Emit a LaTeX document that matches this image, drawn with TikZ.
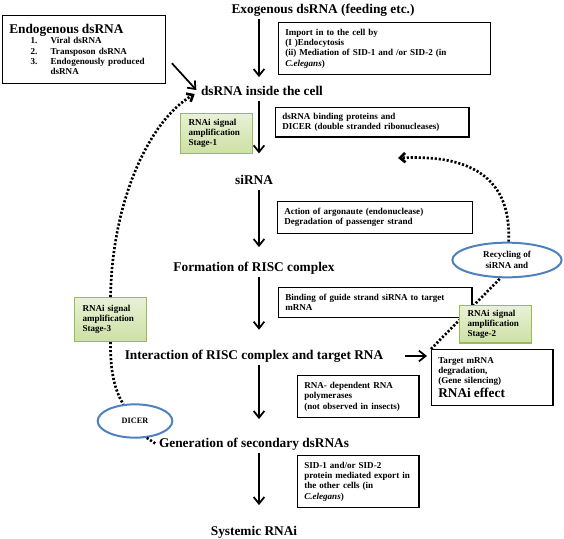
\documentclass[tikz,border=0pt]{standalone}
\usepackage{fontspec}
\setmainfont{Liberation Serif}
\usetikzlibrary{backgrounds,arrows.meta,shapes.geometric,positioning,calc}
\definecolor{ampfill}{RGB}{205,224,164}
\definecolor{ampedge}{RGB}{155,187,89}
\definecolor{ringblue}{RGB}{79,129,189}

\tikzset{
  heading/.style={font=\bfseries\fontsize{10}{12}\selectfont, text height=7pt, text depth=2pt, inner sep=2pt},
  note/.style={draw, line width=0.9pt, anchor=north west, align=left, inner xsep=5pt, inner ysep=2pt,
               font=\bfseries\fontsize{6.8}{7.8}\selectfont},
  amp/.style={draw=ampedge, line width=0.8pt, top color=ampfill!45!white, bottom color=ampfill,
              anchor=north west, align=left, inner xsep=6pt, text width=42pt,
              font=\bfseries\fontsize{6.8}{7.6}\selectfont},
  loopring/.style={ellipse, draw=ringblue, line width=1.5pt, fill=white, align=center, inner sep=0pt,
                   font=\bfseries\fontsize{6.8}{7.8}\selectfont},
  flow/.style={-{Straight Barb[length=5pt,width=8pt]}, line width=1.3pt},
  dotflow/.style={line width=2pt, dash pattern=on 1.6pt off 1.4pt}
}

\begin{document}
\begin{tikzpicture}[x=0.75pt, y=-0.75pt]
    \useasboundingbox (0,0) rectangle (564,539);

    %Main pathway
    \node (exo)       [heading] at (323,10)  {Exogenous dsRNA (feeding etc.)};
    \node (inside)    [heading] at (262,92)  {dsRNA inside the cell};
    \node (sirna)     [heading] at (254,181) {siRNA};
    \node (risc)      [heading] at (254,268) {Formation of RISC complex};
    \node (interact)  [heading] at (254,356) {Interaction of RISC complex and target RNA};
    \node (secondary) [heading] at (254,444) {Generation of secondary dsRNAs};
    \node (systemic)  [heading] at (254,532) {Systemic RNAi};
    \coordinate (spine) at (259,0);

    %Side notes
    \node (endo) [note, text width=112pt, minimum height=51pt] at (2,15)
        {{\fontsize{10}{11}\selectfont Endogenous dsRNA}\\
         \hspace*{16pt}\makebox[15pt][l]{1.}Viral dsRNA\\
         \hspace*{16pt}\makebox[15pt][l]{2.}Transposon dsRNA\\
         \hspace*{16pt}\makebox[15pt][l]{3.}Endogenously produced\\
         \hspace*{31pt}dsRNA};
    \node (import) [note, text width=149pt, minimum height=39pt] at (278,22)
        {Import in to the cell by\\(I )Endocytosis\\(ii) Mediation of SID-1 and /or SID-2 (in\\\textit{C.elegans})};
    \node (dicerbox) [note, text width=135pt, minimum height=22pt] at (275,107)
        {dsRNA binding proteins and\\DICER (double stranded ribonucleases)};
    \node (argo) [note, text width=136pt, minimum height=24pt] at (277,201)
        {Action of argonaute (endonuclease)\\Degradation of passenger strand};
    \node (guide) [note, text width=135pt, minimum height=22.5pt] at (278,287)
        {Binding of guide strand siRNA to target\\mRNA};
    \node (rdrp) [note, text width=81pt, minimum height=31.5pt] at (297,375)
        {RNA- dependent RNA\\polymerases\\(not observed in insects)};
    \node (effect) [note, text width=81pt, minimum height=42pt] at (431,349)
        {Target mRNA\\degradation,\\(Gene silencing)\\[1pt]{\fontsize{10}{11}\selectfont RNAi effect}};
    \node (export) [note, text width=81pt, minimum height=39pt] at (297,455)
        {SID-1 and/or SID-2\\protein mediated export in\\the other cells (in\\\textit{C.elegans})};

    %Amplification
    \node (amp1) [amp, minimum height=30pt] at (180,113) {RNAi signal\\amplification\\Stage-1};
    \node (amp2) [amp, minimum height=28pt] at (459,305) {RNAi signal\\amplification\\Stage-2};
    \node (amp3) [amp, minimum height=33pt] at (74,297)  {RNAi signal\\amplification\\Stage-3};
    \node (recycle) [loopring, minimum width=82pt, minimum height=26pt] at (507,260) {Recycling of\\siRNA and};
    \node (dicer)   [loopring, minimum width=56pt, minimum height=25pt, font=\bfseries\fontsize{6.2}{7}\selectfont] at (135,421) {DICER};
    \coordinate (reuse) at (398,158);

    %Lines
    \draw[flow, shorten >=4.5pt] (exo.south -| spine)       -- (inside.north -| spine);
    \draw[flow, shorten >=14pt]  (inside.south -| spine)    -- (sirna.north -| spine);
    \draw[flow, shorten >=9pt]   (sirna.south -| spine)     -- (risc.north -| spine);
    \draw[flow, shorten >=13pt]  (risc.south -| spine)      -- (interact.north -| spine);
    \draw[flow, shorten >=12pt]  (interact.south -| spine)  -- (secondary.north -| spine);
    \draw[flow, shorten >=13.5pt](secondary.south -| spine) -- (systemic.north -| spine);
    \draw[flow, shorten >=2pt] ([shift={(6,-21)}]endo.south east) -- (inside.west);
    \draw[flow] ([xshift=14]interact.east) -- ([xshift=-3]effect.west |- interact.east);

    \begin{scope}[on background layer]
    \draw[dotflow] (effect.north west) -- (recycle.250);
    \end{scope}
    \draw[dotflow, -{Straight Barb[length=4pt,width=7pt]}] (recycle.85) .. controls (512,170) and (460,155) .. (reuse);
    \draw[dotflow, -{Straight Barb[length=4pt,width=7pt]}, shorten >=3pt] (amp3.north) .. controls (112,200) and (150,120) .. (inside.west);
    \draw[dotflow] (amp3.south) .. controls (110,380) and (118,395) .. (dicer.125);
    \draw[dotflow] (dicer.-55) -- (secondary.west);
\end{tikzpicture}
\end{document}
